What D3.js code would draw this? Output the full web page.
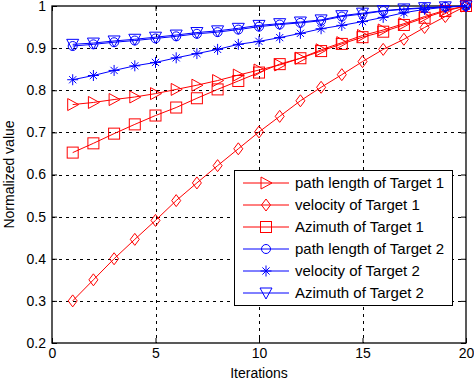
<!DOCTYPE html>
<html><head><meta charset="utf-8">
<script src="https://cdn.jsdelivr.net/npm/d3@7"></script>
<style>body{margin:0;background:#fff}svg{display:block}text{font-family:"Liberation Sans",Arial,sans-serif}</style>
</head><body>
<script>
const iterations = d3.range(1, 21);
const pathLengthT1 = [0.766,0.771,0.778,0.784,0.792,0.802,0.812,0.823,0.836,0.848,0.860,0.876,0.896,0.913,0.930,0.943,0.958,0.975,0.990,1.0];
const velocityT1   = [0.300,0.350,0.400,0.446,0.491,0.538,0.580,0.621,0.661,0.701,0.738,0.775,0.807,0.837,0.868,0.897,0.921,0.949,0.975,1.0];
const azimuthT1    = [0.652,0.674,0.697,0.719,0.740,0.759,0.781,0.802,0.822,0.842,0.862,0.876,0.893,0.910,0.926,0.939,0.955,0.972,0.988,1.0];
const pathLengthT2 = [0.905,0.909,0.914,0.918,0.923,0.928,0.934,0.938,0.944,0.951,0.956,0.960,0.965,0.975,0.981,0.988,0.992,0.995,0.998,1.0];
const velocityT2   = [0.825,0.835,0.847,0.858,0.866,0.877,0.887,0.897,0.909,0.916,0.925,0.935,0.946,0.954,0.963,0.973,0.984,0.992,0.997,1.0];
const azimuthT2    = [0.909,0.912,0.917,0.921,0.926,0.931,0.937,0.941,0.947,0.954,0.958,0.962,0.967,0.977,0.983,0.989,0.993,0.996,0.998,1.0];
const xTicks = [0,5,10,15,20];
const yTicks = [0.2,0.3,0.4,0.5,0.6,0.7,0.8,0.9,1];
const seriesNames = ["path length of Target 1","velocity of Target 1","Azimuth of Target 1","path length of Target 2","velocity of Target 2","Azimuth of Target 2"];

const series = [
  {name: seriesNames[0], values: pathLengthT1, color: "#ff0000", marker: "triR"},
  {name: seriesNames[1], values: velocityT1,   color: "#ff0000", marker: "diamond"},
  {name: seriesNames[2], values: azimuthT1,    color: "#ff0000", marker: "square"},
  {name: seriesNames[3], values: pathLengthT2, color: "#0000ff", marker: "circle"},
  {name: seriesNames[4], values: velocityT2,   color: "#0000ff", marker: "star"},
  {name: seriesNames[5], values: azimuthT2,    color: "#0000ff", marker: "triD"}
];

const W = 474, H = 380;
const m = {left: 52, right: 8, top: 6, bottom: 37};
const svg = d3.select("body").append("svg").attr("width", W).attr("height", H);
const x = d3.scaleLinear().domain([0,20]).range([m.left, W - m.right]);
const y = d3.scaleLinear().domain([0.2,1]).range([H - m.bottom, m.top]);
const x0 = x(0), x1 = x(20), y0 = y(0.2), y1 = y(1);

// grid
const grid = svg.append("g").attr("stroke", "#000").attr("stroke-width", 1).attr("stroke-dasharray", "3,4");
xTicks.filter(t => t > 0 && t < 20).forEach(t => grid.append("line")
  .attr("x1", Math.round(x(t)) + 0.5).attr("x2", Math.round(x(t)) + 0.5).attr("y1", y1).attr("y2", y0));
yTicks.filter(t => t > 0.2 && t < 1).forEach(t => grid.append("line")
  .attr("y1", Math.round(y(t)) + 0.5).attr("y2", Math.round(y(t)) + 0.5).attr("x1", x0).attr("x2", x1));

// axes
const fmt = d => d === 1 ? "1" : d3.format(".1f")(d);
const ax = svg.append("g").attr("transform", `translate(0,${y0})`)
  .call(d3.axisBottom(x).tickValues(xTicks).tickSizeInner(-5).tickSizeOuter(0).tickPadding(5));
const ay = svg.append("g").attr("transform", `translate(${x0},0)`)
  .call(d3.axisLeft(y).tickValues(yTicks).tickFormat(fmt).tickSizeInner(-5).tickSizeOuter(0).tickPadding(6));
[ax, ay].forEach(g => {
  g.select(".domain").remove();
  g.selectAll("text").attr("font-size", 14).attr("fill", "#000").style("font-family", '"Liberation Sans",Arial,sans-serif');
  g.selectAll("line").attr("stroke", "#000");
});
// right/top ticks
svg.append("g").call(d3.axisRight(y).tickValues(yTicks).tickSize(-5).tickFormat(""))
  .attr("transform", `translate(${x1},0)`).call(g => g.select(".domain").remove());
svg.append("g").call(d3.axisTop(x).tickValues(xTicks).tickSize(-5).tickFormat(""))
  .attr("transform", `translate(0,${y1})`).call(g => g.select(".domain").remove());
// box
svg.append("rect").attr("x", x0).attr("y", y1).attr("width", x1 - x0).attr("height", y0 - y1)
  .attr("fill", "none").attr("stroke", "#000").attr("stroke-width", 1.3);

// markers
function drawMarker(g, type, cx, cy, color) {
  const s = g.append("g").attr("transform", `translate(${cx},${cy})`)
    .attr("fill", "none").attr("stroke", color).attr("stroke-width", 1);
  if (type === "triR") s.append("path").attr("d", "M-5,-6L6,0L-5,6Z");
  else if (type === "triD") s.append("path").attr("d", "M-6,-5L6,-5L0,6Z");
  else if (type === "diamond") s.append("path").attr("d", "M0,-6L4.5,0L0,6L-4.5,0Z");
  else if (type === "square") s.append("rect").attr("x", -5.5).attr("y", -5.5).attr("width", 11).attr("height", 11);
  else if (type === "circle") s.append("circle").attr("r", 4.5);
  else if (type === "star") s.append("path").attr("d", "M0,-5.5V5.5M-5.5,0H5.5M-3.6,-3.6L3.6,3.6M-3.6,3.6L3.6,-3.6");
}
const line = d3.line().x((d, i) => x(iterations[i])).y(d => y(d));
series.forEach(s => {
  const g = svg.append("g");
  g.append("path").attr("d", line(s.values)).attr("fill", "none").attr("stroke", s.color).attr("stroke-width", 1);
  s.values.forEach((v, i) => drawMarker(g, s.marker, x(iterations[i]), y(v), s.color));
});

// axis labels
svg.append("text").attr("x", (x0 + x1) / 2).attr("y", 378).attr("text-anchor", "middle")
  .attr("font-size", 14).text("Iterations");
svg.append("text").attr("transform", `translate(14,${(y0 + y1) / 2}) rotate(-90)`).attr("text-anchor", "middle")
  .attr("font-size", 14).text("Normalized value");

// legend
const lg = svg.append("g");
lg.append("rect").attr("x", 234.5).attr("y", 170.5).attr("width", 218).attr("height", 135)
  .attr("fill", "#fff").attr("stroke", "#000").attr("stroke-width", 1);
series.forEach((s, i) => {
  const ly = 183 + i * 22;
  lg.append("line").attr("x1", 243).attr("x2", 289).attr("y1", ly).attr("y2", ly).attr("stroke", s.color);
  drawMarker(lg, s.marker, 266, ly, s.color);
  lg.append("text").attr("x", 295).attr("y", ly + 5).attr("font-size", 15).text(s.name);
});
</script>
</body></html>
